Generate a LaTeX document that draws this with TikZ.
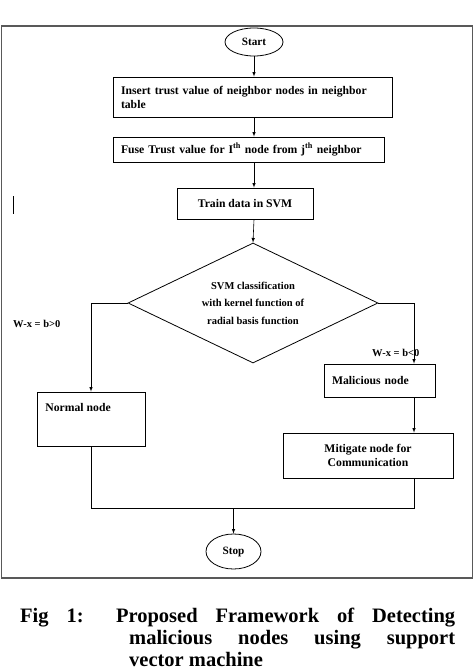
\documentclass[tikz,border=0pt]{standalone}
\usepackage{fontspec}
\setmainfont{Liberation Serif}
\usetikzlibrary{arrows,shapes.geometric}

\tikzset{
  box/.style={draw, rectangle, line width=0.8pt, inner sep=0pt, font=\bfseries\fontsize{11.7}{14}\selectfont},
  oval/.style={draw, ellipse, line width=0.8pt, inner sep=0pt, font=\bfseries\fontsize{11.2}{13}\selectfont},
  arr/.style={-latex, line width=0.6pt},
  lbl/.style={font=\bfseries\fontsize{10.5}{12}\selectfont, inner sep=0pt},
  capline/.style={anchor=base west, inner sep=0pt, font=\bfseries\fontsize{20.5}{24}\selectfont}
}

\begin{document}
\begin{tikzpicture}[x=1pt,y=-1pt]
      \useasboundingbox (0,0) rectangle (474,669);
      \draw[gray!70!black, line width=1.6pt] (1.5,26) rectangle (472.5,578);
      \draw[line width=0.8pt] (13,196) -- (13,214);

      \node[oval, minimum width=58, minimum height=28] (start) at (254,42) {Start};
      \node[box, minimum width=279, minimum height=40, text width=263, align=left] (insert) at (252.5,97)
        {Insert trust value of neighbor nodes in neighbor\\table};
      \node[box, minimum width=271, minimum height=25, text width=255, align=left] (fuse) at (248.5,149.5)
        {Fuse Trust value for I\textsuperscript{th} node from j\textsuperscript{th} neighbor};
      \node[box, minimum width=136, minimum height=31] (train) at (245,203.5) {Train data in SVM};
      \node[box, shape=diamond, aspect=2.08, minimum width=250, minimum height=120, align=center,
        font=\bfseries\fontsize{10.5}{17.5}\selectfont] (svm) at (253,303)
        {SVM classification\\with kernel function of\\radial basis function};
      \node[box, minimum width=108, minimum height=54] (normal) at (91,419) {};
      \node[box, draw=none, anchor=west] at (45,407) {Normal node};
      \node[box, minimum width=111, minimum height=33, text width=95, align=left] (malicious) at (379.5,380.5) {Malicious node};
      \node[box, minimum width=170, minimum height=45, align=center] (mitigate) at (368,455.5)
        {Mitigate node for\\Communication};
      \node[oval, minimum width=55, minimum height=35] (stop) at (233.5,551.5) {Stop};

      \coordinate (rbend) at (414,303);
      \coordinate (ljoin) at (91,508);
      \coordinate (rjoin) at (414,508);

      \draw[arr] (start) -- (start |- insert.north);
      \draw[arr] (insert.south -| start) -- (fuse.north -| start);
      \draw[arr] (fuse.south -| start) -- (train.north -| start);
      \draw[arr] (train.south -| start) -- (svm.north);
      \draw[arr] (svm.west) -| (normal.north);
      \draw[arr] (svm.east) -- (rbend) -- (rbend |- malicious.north);
      \draw[arr] (malicious.south -| rbend) -- (mitigate.north -| rbend);
      \draw (normal.south) -- (ljoin) -- (rjoin) -- (mitigate.south -| rjoin);
      \draw[arr] (stop |- ljoin) -- (stop.north);

      \node[lbl, anchor=west] (lleft) at (13,324) {W-x = b>0};
      \node[lbl, anchor=west] (lright) at (372,353) {W-x = b<0};

      \node[capline] (cap1) at (20,622) {\makebox[435pt][s]{Fig 1: Proposed Framework of Detecting}};
      \node[capline] (cap2) at (129,644) {\makebox[326pt][s]{malicious nodes using support}};
      \node[capline] (cap3) at (129,666) {vector machine};
    \end{tikzpicture}
\end{document}
